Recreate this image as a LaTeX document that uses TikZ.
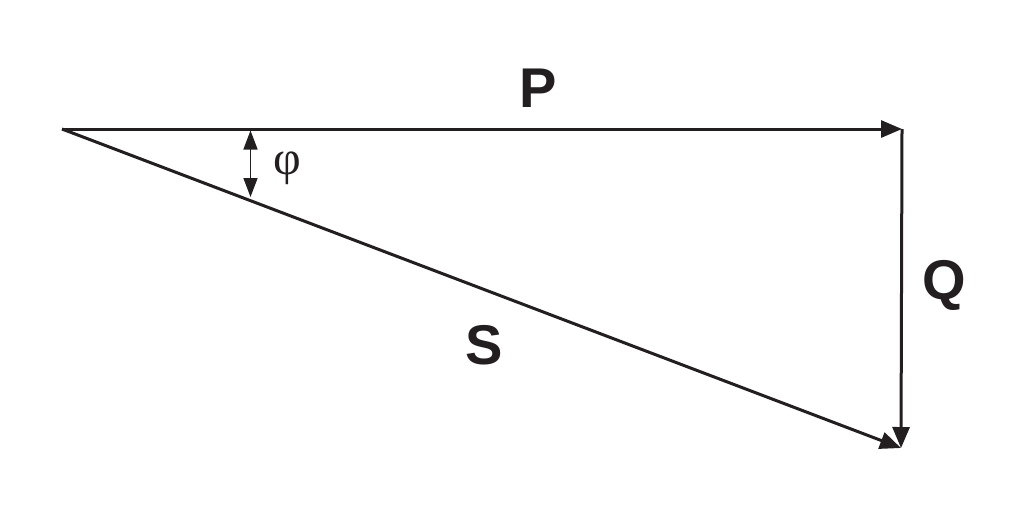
\documentclass[tikz,border=0pt]{standalone}
\usepackage{fontspec}
\setmainfont{Liberation Serif}
\setsansfont{Liberation Sans}
\usetikzlibrary{arrows.meta}
\definecolor{ink}{HTML}{231F20}
\begin{document}
\begin{tikzpicture}[x=1pt,y=-1pt,
  vec/.style={ink,line width=3pt,-{Triangle[length=21pt,width=17pt]}},
  angarrow/.style={ink,line width=1.5pt,{Triangle[length=19pt,width=14pt]}-{Triangle[length=19pt,width=14pt]}},
  biglabel/.style={text=ink,font=\sffamily\bfseries\fontsize{56}{60}\selectfont,inner sep=0pt},
  philabel/.style={text=ink,font=\fontsize{48}{52}\selectfont,inner sep=0pt}]
\useasboundingbox (0,0) rectangle (1024,507);
\fill[white] (0,0) rectangle (1024,507);
\coordinate (A) at (62,129);
\coordinate (B) at (902,129);
\coordinate (C) at (901,448);
\coordinate (D1) at (250.5,130.5);
\coordinate (D2) at (250.5,197);
\draw[vec] (A) -- (B);
\draw[vec] (B) -- (C);
\draw[vec] (A) -- (C);
\draw[angarrow] (D1) -- (D2);
\node[biglabel] (P) at (538,88) {P};
\node[biglabel] (Q) at (944,285) {Q};
\node[biglabel] (S) at (484,345) {S};
\node[philabel] (phi) at (287,168) {φ};
\end{tikzpicture}
\end{document}
